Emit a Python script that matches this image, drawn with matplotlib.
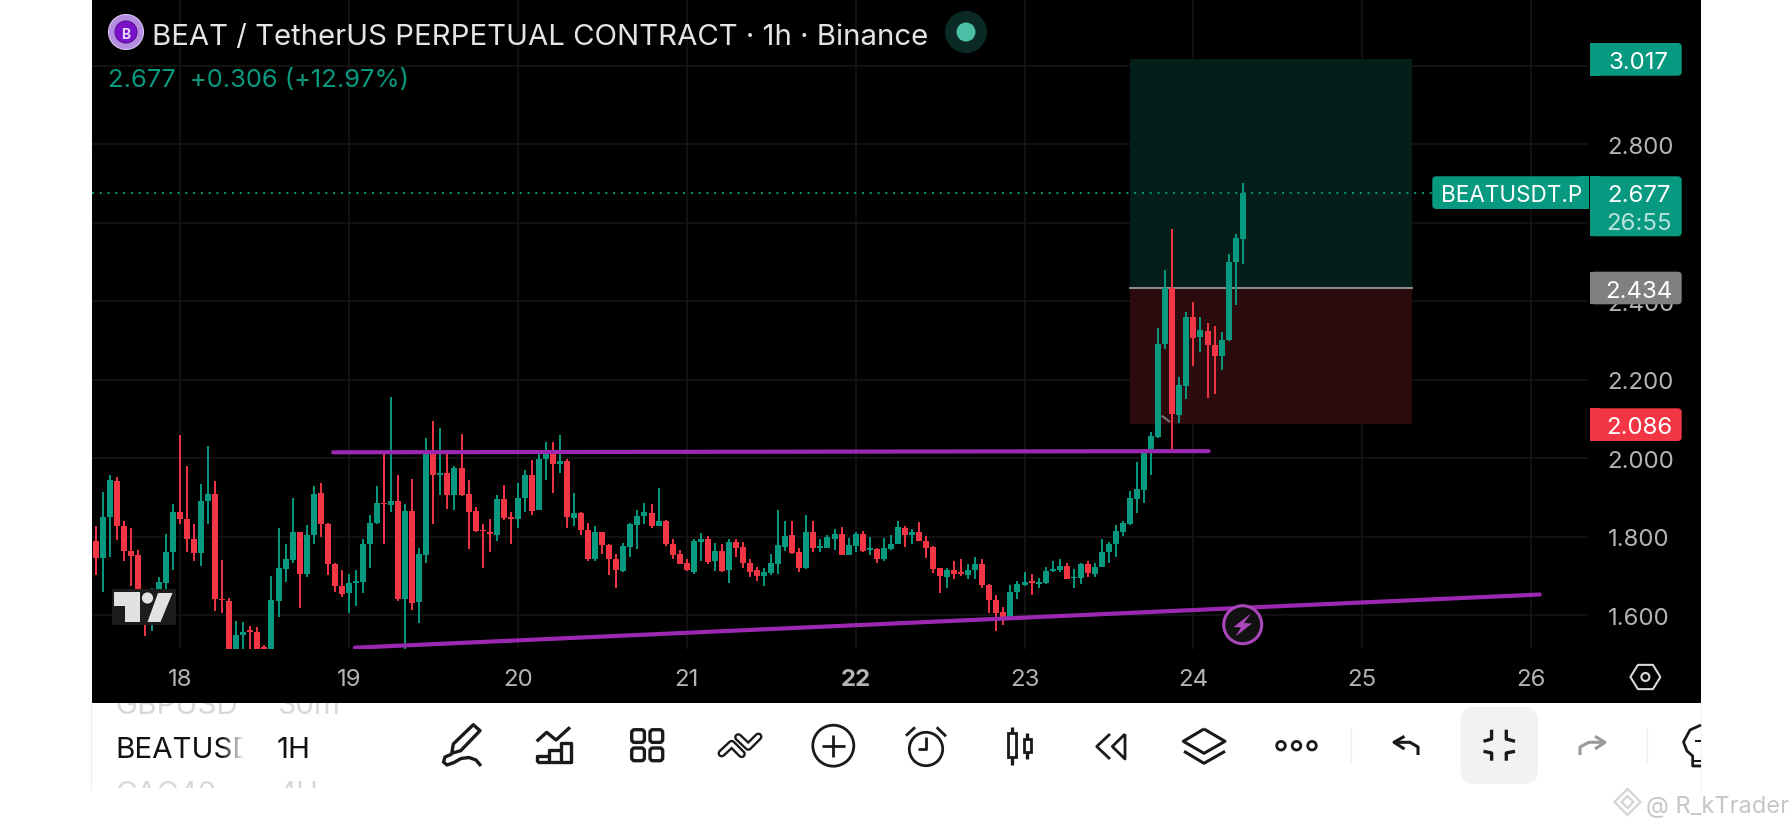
import numpy as np
import matplotlib
matplotlib.use("Agg")
import matplotlib.pyplot as plt
from matplotlib.patches import Circle, FancyBboxPatch, Polygon, Rectangle

plt.rcParams['font.family'] = ['Inter', 'DejaVu Sans']

W, H = 1792, 828

# candele 1h, la prima e' il giorno 17 alle 12:00
opens = [1.788,1.746,1.851,1.943,1.826,1.764,1.753,1.658,1.578,1.665,
         1.682,1.762,1.862,1.844,1.794,1.759,1.890,1.908,1.641,1.637,
         1.50,1.550,1.562,1.557,1.519,1.50,1.637,1.718,1.741,1.811,
         1.706,1.804,1.910,1.833,1.730,1.674,1.657,1.683,1.684,1.782,
         1.834,1.886,1.881,1.891,1.641,1.866,1.633,1.754,2.010,1.956,
         1.963,1.907,1.975,1.909,1.866,1.817,1.812,1.805,1.895,1.849,
         1.844,1.898,1.958,1.867,1.997,2.020,1.985,1.994,1.847,1.861,
         1.816,1.742,1.811,1.779,1.743,1.713,1.774,1.830,1.852,1.861,
         1.828,1.840,1.781,1.756,1.732,1.711,1.787,1.794,1.737,1.764,
         1.716,1.787,1.773,1.733,1.714,1.700,1.708,1.731,1.774,1.804,
         1.760,1.720,1.812,1.772,1.772,1.794,1.808,1.754,1.777,1.807,
         1.766,1.769,1.744,1.769,1.781,1.823,1.803,1.811,1.790,1.774,
         1.720,1.698,1.716,1.709,1.701,1.715,1.729,1.677,1.638,1.607,
         1.590,1.660,1.676,1.686,1.680,1.681,1.713,1.714,1.725,1.694,
         1.695,1.729,1.705,1.723,1.762,1.780,1.813,1.831,1.896,1.920,
         2.020,2.054,2.290,2.433,2.111,2.183,2.360,2.308,2.325,2.289,
         2.260,2.300,2.499,2.559]
highs = [1.828,1.913,1.958,1.953,1.839,1.822,1.767,1.667,1.668,1.697,
         1.807,1.883,2.060,1.980,1.831,1.934,2.031,1.941,1.740,1.643,
         1.585,1.583,1.573,1.570,1.524,1.699,1.822,1.780,1.898,1.811,
         1.830,1.929,1.936,1.834,1.733,1.714,1.705,1.716,1.794,1.856,
         1.929,2.015,2.156,1.958,1.883,1.946,1.770,2.051,2.095,2.077,
         2.021,1.981,2.061,1.944,1.875,1.831,1.844,1.905,1.932,1.862,
         1.937,1.970,1.996,2.017,2.041,2.041,2.058,1.997,1.912,1.862,
         1.835,1.828,1.812,1.781,1.756,1.783,1.834,1.867,1.887,1.882,
         1.924,1.842,1.793,1.766,1.744,1.794,1.810,1.801,1.785,1.782,
         1.793,1.794,1.787,1.742,1.722,1.720,1.756,1.869,1.839,1.839,
         1.770,1.854,1.841,1.793,1.804,1.820,1.825,1.797,1.812,1.815,
         1.799,1.772,1.796,1.804,1.839,1.827,1.819,1.838,1.802,1.776,
         1.721,1.721,1.739,1.742,1.730,1.748,1.743,1.679,1.652,1.620,
         1.677,1.686,1.709,1.705,1.694,1.722,1.739,1.743,1.734,1.718,
         1.733,1.737,1.732,1.793,1.786,1.830,1.841,1.917,1.991,2.021,
         2.068,2.332,2.479,2.584,2.207,2.373,2.398,2.360,2.345,2.336,
         2.321,2.521,2.572,2.701]
lows = [1.703,1.660,1.748,1.792,1.738,1.675,1.641,1.546,1.56,1.658,
        1.667,1.716,1.831,1.762,1.737,1.726,1.831,1.610,1.605,1.49,
        1.49,1.49,1.49,1.49,1.49,1.49,1.595,1.684,1.733,1.617,
        1.697,1.781,1.799,1.701,1.660,1.646,1.606,1.623,1.656,1.721,
        1.833,1.780,1.864,1.635,1.514,1.612,1.580,1.733,1.831,1.907,
        1.871,1.869,1.903,1.769,1.811,1.721,1.762,1.790,1.843,1.782,
        1.822,1.864,1.856,1.867,1.945,1.912,1.963,1.822,1.827,1.805,
        1.738,1.738,1.757,1.701,1.669,1.711,1.748,1.769,1.831,1.823,
        1.827,1.776,1.742,1.729,1.713,1.705,1.739,1.729,1.713,1.710,
        1.683,1.748,1.720,1.697,1.686,1.674,1.703,1.705,1.764,1.756,
        1.710,1.718,1.762,1.761,1.771,1.767,1.753,1.752,1.760,1.762,
        1.753,1.733,1.738,1.767,1.780,1.774,1.781,1.788,1.746,1.708,
        1.657,1.670,1.691,1.700,1.692,1.692,1.668,1.606,1.559,1.576,
        1.588,1.642,1.674,1.652,1.669,1.680,1.709,1.711,1.691,1.670,
        1.679,1.696,1.697,1.722,1.733,1.748,1.802,1.830,1.859,1.886,
        1.958,2.051,2.279,2.017,2.090,2.152,2.235,2.270,2.154,2.164,
        2.226,2.299,2.391,2.496]
closes = [1.746,1.850,1.945,1.826,1.763,1.751,1.658,1.578,1.665,1.684,
          1.762,1.862,1.845,1.795,1.759,1.890,1.908,1.641,1.638,1.50,
          1.550,1.557,1.558,1.50,1.50,1.639,1.720,1.742,1.811,1.705,
          1.804,1.908,1.832,1.729,1.674,1.654,1.682,1.687,1.782,1.835,
          1.885,1.883,1.891,1.641,1.866,1.632,1.755,2.010,1.958,1.962,
          1.907,1.975,1.906,1.863,1.815,1.814,1.808,1.895,1.848,1.844,
          1.898,1.957,1.865,1.997,2.020,1.984,1.993,1.849,1.861,1.816,
          1.743,1.811,1.779,1.742,1.715,1.776,1.832,1.853,1.862,1.826,
          1.839,1.781,1.754,1.731,1.714,1.790,1.793,1.735,1.764,1.713,
          1.787,1.772,1.733,1.711,1.700,1.709,1.734,1.779,1.802,1.758,
          1.720,1.811,1.772,1.775,1.799,1.808,1.754,1.778,1.807,1.764,
          1.770,1.742,1.770,1.781,1.825,1.804,1.813,1.789,1.771,1.718,
          1.699,1.716,1.705,1.705,1.716,1.730,1.677,1.638,1.606,1.590,
          1.660,1.680,1.684,1.683,1.685,1.712,1.717,1.725,1.692,1.697,
          1.729,1.707,1.722,1.762,1.782,1.815,1.835,1.898,1.922,2.020,
          2.056,2.292,2.433,2.112,2.187,2.360,2.307,2.326,2.289,2.261,
          2.302,2.500,2.561,2.677]
first_day = 17.5

day_ticks = [18, 19, 20, 21, 22, 23, 24, 25, 26]
price_ticks = [1.6, 1.8, 2.0, 2.2, 2.4, 2.6, 2.8, 3.0]
# 2.600 e 3.000 stanno sotto le etichette colorate
price_labels = ["1.600", "1.800", "2.000", "2.200", "2.400", "", "2.800", ""]

# posizione long e linee disegnate a mano
target_price = 3.017
entry_price = 2.434
stop_price = 2.086
position_days = [23.623, 25.295]
last_price = 2.677
last_price_days = [17.479, 25.41]
resistance_days = [18.907, 24.09]
resistance_prices = [2.015, 2.018]
support_days = [19.036, 26.05]
support_prices = [1.517, 1.6525]

GREEN = '#089981'
RED = '#f23645'
PURPLE = '#9c27b0'
GRID = '#151515'
INK = '#1a1a1a'

fig = plt.figure(figsize=(W / 100, H / 100), dpi=100, facecolor='white')

# sfondo nero dell'app
bg = fig.add_axes([0, 0, 1, 1], zorder=0)
bg.set_xlim(0, W)
bg.set_ylim(H, 0)
bg.axis('off')
bg.add_patch(Rectangle((92, 0), 1609, 704, color='black', lw=0))
bg.plot([91, 91], [704, 790], color='#eeeeee', lw=1)
bg.plot([1701, 1701], [704, 790], color='#f4f4f4', lw=1)

# grafico principale
ax = fig.add_axes([92 / W, 1 - 650 / H, (1588 - 92) / W, 650 / H], zorder=1)
ax.set_facecolor('black')
ax.set_xlim(17.479, 26.336)
ax.set_ylim(1.5136, 3.1705)
for s in ax.spines.values():
    s.set_visible(False)

ax.set_xticks(day_ticks)
ax.set_xticklabels([str(d) for d in day_ticks])
ax.set_yticks(price_ticks)
ax.set_yticklabels(price_labels)
ax.yaxis.tick_right()
ax.tick_params(axis='x', length=0, pad=14, labelsize=17.3, labelcolor='#b4b4b4')
ax.tick_params(axis='y', length=0, pad=14, labelsize=17.3, labelcolor='#b4b4b4')
ax.get_xticklabels()[day_ticks.index(22)].set_fontweight('bold')
ax.grid(True, color=GRID, lw=1.2, zorder=0)
ax.set_axisbelow(True)

# box rischio/rendimento
ax.fill_between(position_days, entry_price, target_price, color='#041e19', lw=0, zorder=1)
ax.fill_between(position_days, stop_price, entry_price, color='#2c0b0e', lw=0, zorder=1)
ax.plot(position_days, [entry_price, entry_price], color='#9a9a9a', lw=1.3, zorder=2)

# candele
o = np.array(opens)
h = np.array(highs)
l = np.array(lows)
c = np.array(closes)
x = first_day + np.arange(len(c)) / 24
colors = [GREEN if b >= a else RED for a, b in zip(o, c)]
ax.vlines(x, l, h, colors=colors, lw=1.4, zorder=3)
ax.bar(x, np.abs(c - o), bottom=np.minimum(o, c), width=0.0355, color=colors, lw=0, zorder=4)

ax.plot(last_price_days, [last_price, last_price], color=GREEN,
        lw=1.4, linestyle=(0, (1, 3.0)), zorder=5)
ax.plot(resistance_days, resistance_prices, color=PURPLE, lw=3, solid_capstyle='round', zorder=6)
ax.plot(support_days, support_prices, color=PURPLE, lw=3, solid_capstyle='round', zorder=6)

# strato interfaccia, in pixel
ui = fig.add_axes([0, 0, 1, 1], zorder=2)
ui.set_xlim(0, W)
ui.set_ylim(H, 0)
ui.axis('off')
ui.patch.set_alpha(0)


def stroke(pts, color=INK, lw=2.4, closed=False):
    pts = list(pts)
    if closed:
        pts = pts + [pts[0]]
    ui.plot([p[0] for p in pts], [p[1] for p in pts], color=color, lw=lw,
            solid_capstyle='butt', solid_joinstyle='round')


def label_box(x0, x1, y0, y1, color, square_left=True, square_right=False):
    ui.add_patch(FancyBboxPatch((x0, y0), x1 - x0, y1 - y0, boxstyle="round,pad=0,rounding_size=4",
                                fc=color, ec='none'))
    if square_left:
        ui.add_patch(Rectangle((x0, y0), 10, y1 - y0, fc=color, ec='none'))
    if square_right:
        ui.add_patch(Rectangle((x1 - 10, y0), 10, y1 - y0, fc=color, ec='none'))


def put(tx, ty, txt, color, size, ha='center', **kw):
    return ui.text(tx, ty, txt, color=color, fontsize=size, ha=ha, va='center_baseline', **kw)


# etichette scala prezzi
label_box(1590.3, 1681.7, 44, 76.7, GREEN)
put(1639, 60.6, "3.017", 'white', 17.3)
label_box(1590.3, 1681.7, 177.3, 237.3, GREEN)
put(1639, 194, "2.677", 'white', 17.3)
put(1639, 221.5, "26:55", '#b9e3da', 17.3)
label_box(1432.3, 1588.7, 177.3, 210, GREEN, square_left=False, square_right=True)
put(1441, 194, "BEATUSDT.P", 'white', 16.2, ha='left')
label_box(1590.3, 1681.7, 272.7, 305.3, '#808080')
put(1639, 289.5, "2.434", 'white', 17.3)
label_box(1590.3, 1681.7, 409.3, 442, RED)
put(1639, 426, "2.086", 'white', 17.3)

# intestazione
ui.add_patch(Circle((126, 33), 17.5, fc='#b48ce0', ec='#d8c4ee', lw=0.8))
ui.add_patch(Circle((126, 33), 11, fc='#7a12c8', ec='#5c0f9a', lw=0.8))
put(126, 33.5, "B", '#e8d8f8', 10, fontweight='bold')
put(152, 34, "BEAT / TetherUS PERPETUAL CONTRACT · 1h · Binance", '#e4e4e4', 21.15, ha='left')
put(107.5, 78, "2.677  +0.306 (+12.97%)", GREEN, 18.4, ha='left')
ui.add_patch(Circle((966, 33), 21, fc='#0b2a25', ec='none'))
ui.add_patch(Circle((966, 33), 9.5, fc='#4cbfa6', ec='none'))

# logo TradingView
ui.add_patch(FancyBboxPatch((112, 590), 64, 36, boxstyle="round,pad=0,rounding_size=2", fc='#1c1c1c', ec='none'))
ui.add_patch(Polygon([(114, 593), (139.5, 593), (139.5, 623), (125, 623), (125, 607), (114, 607)],
                     fc='#e2e2e2', ec='none'))
ui.add_patch(Circle((147.5, 599), 5.6, fc='#e2e2e2', ec='none'))
ui.add_patch(Polygon([(172.5, 594), (158, 594), (147.5, 623), (160.5, 623)], fc='#e2e2e2', ec='none'))

# badge con il fulmine
ui.add_patch(Circle((1242.7, 625.7), 19, fc='#111111', ec='#ab47bc', lw=2.2))
ui.add_patch(Polygon([(1251, 614.5), (1233.5, 628), (1241, 628.5), (1235.5, 637.5), (1252, 624.5), (1244, 624)],
                     fc='#ab47bc', ec='none'))

# segni grigi sotto le candele
stroke([(1161.7, 416.7), (1170, 423)], color='#777777', lw=1.4)

# esagono impostazioni
hex_a = np.radians([0, 60, 120, 180, 240, 300])
stroke(zip(1645.4 + 15 * np.cos(hex_a), 678 + 14 * np.sin(hex_a)), color='#d8d8d8', lw=1.5, closed=True)
ui.add_patch(Circle((1645.4, 678), 4, fc='none', ec='#d8d8d8', lw=1.5))

# barra strumenti: testi
clip_rows = Rectangle((92, 704), 260, 85, transform=ui.transData)
for txt, tx, ty in [("GBPUSD", 115.5, 704), ("30m", 277, 704), ("CAC40", 115.5, 791.5), ("4H", 277, 791.5)]:
    t = put(tx, ty, txt, '#d8d8d8', 21.3, ha='left')
    t.set_clip_on(True)
    t.set_clip_path(clip_rows)
put(115.5, 748, "BEATUSD", '#111111', 21.3, ha='left')
put(277, 748, "1H", '#111111', 21.3, ha='left')
fade = np.ones((2, 64, 4))
fade[:, :, 3] = np.linspace(0, 1, 64)
ui.imshow(fade, extent=(222, 244, 770, 725), aspect='auto', zorder=5)
ui.add_patch(Rectangle((244, 725), 30, 45, fc='white', ec='none', zorder=5))
ui.set_xlim(0, W)
ui.set_ylim(H, 0)

# matita
stroke([(451.7, 754.3), (453.3, 745), (473.3, 725.7), (480, 731.7), (460.7, 751.7)], closed=True)
stroke([(481, 767), (476, 761), (469, 758.5), (461, 759.5), (454, 763.5), (447, 766), (443.5, 763),
        (445, 758), (452, 755)])
# grafico a barre
stroke([(536.7, 742.3), (546.7, 733.3), (556, 741), (570, 728.3)])
stroke([(537.3, 763.3), (537.3, 756.7), (549.3, 756.7), (549.3, 751), (560.7, 751), (560.7, 744.3),
        (570.7, 744.3), (570.7, 763.3)], closed=True)
stroke([(549.3, 756.7), (549.3, 763.3)])
stroke([(560.7, 751), (560.7, 763.3)])
# griglia
for gx, gy in [(631.7, 730.7), (650, 730.7), (631.7, 749), (650, 749)]:
    ui.add_patch(FancyBboxPatch((gx, gy), 12.7, 12.7, boxstyle="round,pad=0,rounding_size=3",
                                fc='white', ec=INK, lw=2.4))
# doppio chevron
for pts in [[(721.7, 754.3), (731.7, 745), (741.7, 755)], [(738.3, 738.3), (748.3, 747.7), (758.3, 737.7)]]:
    ui.plot([p[0] for p in pts], [p[1] for p in pts], color=INK, lw=6, solid_capstyle='round')
    ui.plot([p[0] for p in pts], [p[1] for p in pts], color='white', lw=2.6, solid_capstyle='round')
# piu'
ui.add_patch(Circle((833.3, 746.7), 20.5, fc='none', ec=INK, lw=2))
stroke([(822, 746.7), (844.5, 746.7)], lw=2)
stroke([(833.3, 735.5), (833.3, 758)], lw=2)
# sveglia
ui.add_patch(Circle((926, 750), 16.7, fc='none', ec=INK, lw=2))
stroke([(926, 738), (926, 750), (918.3, 750)], lw=2)
stroke([(906, 736.7), (915, 728.3)], lw=2)
stroke([(936.7, 728.3), (946, 737.3)], lw=2)
# candele
stroke([(1011.7, 727.7), (1011.7, 734.3)], lw=2.4)
stroke([(1011.7, 758.3), (1011.7, 765.7)], lw=2.4)
ui.add_patch(Rectangle((1008.3, 734.3), 7.3, 24, fc='none', ec=INK, lw=2))
stroke([(1027.3, 734.3), (1027.3, 740)], lw=2.4)
stroke([(1027.3, 752.7), (1027.3, 759.7)], lw=2.4)
ui.add_patch(Rectangle((1024, 740), 7, 12.7, fc='none', ec=INK, lw=2))
# riavvolgi
stroke([(1110, 735), (1096.7, 747.5), (1110, 760)], lw=2)
stroke([(1125, 735), (1112.3, 747.5), (1125, 760)], lw=2, closed=True)
# livelli
stroke([(1204, 730), (1225, 742.3), (1204, 754.3), (1183.3, 742.3)], lw=2.2, closed=True)
stroke([(1184, 752.3), (1204, 764.3), (1225, 752.3)], lw=2.2)
# tre puntini
for dx in [1281, 1296.5, 1312]:
    ui.add_patch(Circle((dx, 746.7), 4.3, fc='none', ec=INK, lw=2))
stroke([(1351, 728), (1351, 763)], color='#eeeeee', lw=1)
stroke([(1646.5, 728), (1646.5, 763)], color='#eeeeee', lw=1)
# undo
stroke([(1418, 756), (1418, 748), (1410, 743.3), (1394, 743.3)], lw=2.2)
stroke([(1404.5, 737.3), (1394, 743.3), (1404.5, 750)], lw=2.2)
# comprimi
ui.add_patch(FancyBboxPatch((1460.6, 708), 77.4, 77, boxstyle="round,pad=0,rounding_size=14",
                            fc='#f2f2f2', ec='none'))
stroke([(1491.6, 730.7), (1491.6, 740), (1483.5, 742.3)], lw=2.4)
stroke([(1506.3, 730.7), (1506.3, 740), (1515, 742.3)], lw=2.4)
stroke([(1483.5, 752.3), (1491.6, 754), (1491.6, 761.7)], lw=2.4)
stroke([(1515, 752.3), (1506.3, 754), (1506.3, 761.7)], lw=2.4)
# redo
stroke([(1580, 756), (1580, 748), (1589, 743.3), (1605, 743.3)], color='#9a9a9a', lw=2.2)
stroke([(1595, 737.3), (1605, 743.3), (1595, 750)], color='#9a9a9a', lw=2.2)
# lampadina tagliata
stroke([(1701, 726), (1690, 731), (1683.5, 743), (1687, 752), (1692.7, 757), (1692.7, 767), (1701, 767)], lw=2)
stroke([(1695, 741.7), (1701, 741.7)], lw=1.5)
stroke([(1692.7, 762), (1701, 762)], lw=1.5)

# filigrana
put(1646, 805, "@ R_kTrader", '#c6c6c6', 17, ha='left')
ui.add_patch(Polygon([(1627.5, 790), (1640.5, 803), (1627.5, 816), (1614.5, 803)], fc='none', ec='#d4d4d4', lw=1.6))
ui.add_patch(Polygon([(1627.5, 797), (1633.5, 803), (1627.5, 809), (1621.5, 803)], fc='none', ec='#d4d4d4', lw=1.6))

fig.savefig('out.png', dpi=100, facecolor='white')
